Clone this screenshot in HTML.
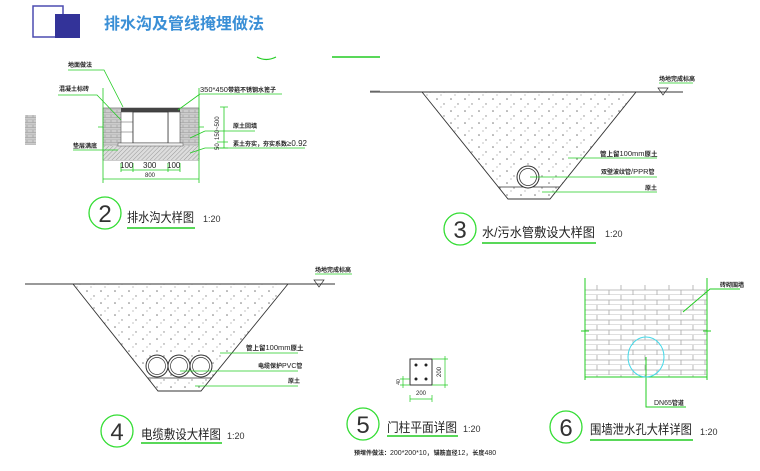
<!DOCTYPE html>
<html><head><meta charset="utf-8"><style>
html,body{margin:0;padding:0;background:#fff}
svg{display:block}
text{font-family:"Liberation Sans","Noto Sans CJK SC",sans-serif}
</style></head><body>
<svg width="760" height="471" viewBox="0 0 760 471" xmlns="http://www.w3.org/2000/svg">
<defs>
<pattern id="dots" width="14" height="12" patternUnits="userSpaceOnUse">
<rect width="14" height="12" fill="#fff"/>
<circle cx="3" cy="3" r="0.8" fill="#777"/><circle cx="10" cy="8" r="0.7" fill="#888"/><circle cx="7" cy="11" r="0.6" fill="#999"/>
</pattern>
<pattern id="hatch" width="3" height="3" patternUnits="userSpaceOnUse" patternTransform="rotate(45)">
<rect width="3" height="3" fill="#ddd"/><line x1="0" y1="0" x2="0" y2="3" stroke="#999" stroke-width="1"/>
</pattern>
<pattern id="brick" width="24" height="10" patternUnits="userSpaceOnUse" x="585" y="285">
<rect width="24" height="10" fill="#fff"/>
<path d="M0 10H24M0 5H24M12 0V5M0 5V10M24 5V10" stroke="#aaa" stroke-width="0.8" fill="none"/>
</pattern>
<pattern id="sbrick" width="6" height="5" patternUnits="userSpaceOnUse">
<rect width="6" height="5" fill="#ccc"/><path d="M0 5H6M3 0V2.5M0 2.5H6" stroke="#999" stroke-width="0.6"/>
</pattern>
</defs>

<!-- header -->
<rect x="33" y="6" width="30" height="31" fill="none" stroke="#4b4bb0" stroke-width="1.5"/>
<rect x="55" y="14" width="25" height="24" fill="#333399"/>
<text x="104" y="29" font-size="16" font-weight="bold" fill="#3a8fd6">排水沟及管线掩埋做法</text>
<path d="M257 57 Q266 62 276 57" stroke="#22cc22" fill="none" stroke-width="1.2"/>
<line x1="332" y1="57" x2="380" y2="57" stroke="#22cc22" stroke-width="1.5"/>
<line x1="370" y1="91" x2="380" y2="91" stroke="#999" stroke-width="1"/>

<rect x="25" y="115" width="11" height="30" fill="url(#sbrick)"/>

<!-- drawing 2 -->
<rect x="103" y="108" width="96" height="52" fill="url(#sbrick)" stroke="#555" stroke-width="0.6"/>
<rect x="103" y="146" width="96" height="14" fill="url(#hatch)"/>
<rect x="121" y="108" width="59" height="4" fill="#444"/>
<rect x="121" y="112" width="12" height="31" fill="#fff" stroke="#555" stroke-width="0.6"/>
<path d="M121 122H133M121 132H133M168 122H180M168 132H180" stroke="#555" stroke-width="0.6"/>
<rect x="168" y="112" width="12" height="31" fill="#fff" stroke="#555" stroke-width="0.6"/>
<rect x="133" y="112" width="35" height="31" fill="#fff" stroke="#333" stroke-width="0.8"/>
<rect x="118" y="143" width="65" height="3" fill="#eee" stroke="#555" stroke-width="0.5"/>
<g stroke="#22cc22" stroke-width="0.8" fill="none">
<path d="M68 70H104L123 107"/><path d="M58 95H97L121 120"/><path d="M200 94H282M200 94L178 110"/>
<path d="M73 150H118"/><path d="M205 131H255M205 131L190 138"/><path d="M205 148H305M205 148L190 153"/>
<path d="M103 88V183M199 88V183M121 163V172M133 163V172M168 163V172M180 163V172M121 170H180M103 179H199"/>
<path d="M224 107V148M220 107H228M220 148H228M217 142H228"/>
<path d="M98 127H103M199 127H204"/>
</g>
<text x="68" y="67" font-size="6" font-weight="bold" fill="#222">地面做法</text>
<text x="59" y="91" font-size="6" font-weight="bold" fill="#222">混凝土标砖</text>
<text x="200" y="92" font-size="7.5" fill="#222">350*450<tspan font-size="6" font-weight="bold">带箍不锈钢水篦子</tspan></text>
<text x="73" y="148" font-size="6" font-weight="bold" fill="#222">垫层满底</text>
<text x="233" y="128" font-size="6" font-weight="bold" fill="#222">原土回填</text>
<text x="233" y="146" font-size="6" font-weight="bold" fill="#222">素土夯实，夯实系数<tspan font-size="8" font-weight="normal">≥0.92</tspan></text>
<text x="219" y="140" font-size="6" fill="#222" transform="rotate(-90 219 140)">150~500</text>
<text x="219" y="150" font-size="6" fill="#222" transform="rotate(-90 219 150)">50</text>
<text x="120" y="168" font-size="8" fill="#222">100</text><text x="143" y="168" font-size="8" fill="#222">300</text><text x="167" y="168" font-size="8" fill="#222">100</text>
<text x="145" y="177" font-size="6" fill="#222">800</text>
<circle cx="105" cy="213" r="16" fill="none" stroke="#33dd33" stroke-width="1.3"/>
<text x="105" y="222" font-size="24" fill="#333" text-anchor="middle">2</text>
<text x="127" y="222" font-size="13" fill="#222" textLength="67" lengthAdjust="spacingAndGlyphs">排水沟大样图</text>
<text x="203" y="222" font-size="9" fill="#333">1:20</text>
<line x1="127" y1="228" x2="195" y2="228" stroke="#22cc22" stroke-width="1.5"/>

<!-- drawing 3 -->
<line x1="370" y1="92" x2="683" y2="92" stroke="#333" stroke-width="1"/>
<polygon points="422,92 636,92 550,199 508,199" fill="url(#dots)" stroke="#333" stroke-width="0.9"/>
<line x1="498" y1="187" x2="560" y2="187" stroke="#333" stroke-width="0.8"/>
<circle cx="528" cy="177" r="11" fill="#fff" stroke="#333" stroke-width="1"/>
<circle cx="528" cy="177" r="8.5" fill="none" stroke="#333" stroke-width="0.8"/>
<g stroke="#22cc22" stroke-width="0.8"><path d="M568 158H657M530 177H657M542 192H657M659 83H693"/></g>
<path d="M658 88 L668 88 L663 95 Z" fill="none" stroke="#333" stroke-width="0.7"/>
<text x="600" y="156" font-size="6.5" font-weight="bold" fill="#222">管上留<tspan font-weight="normal" font-size="7.5">100mm</tspan>原土</text>
<text x="601" y="174" font-size="6" font-weight="bold" fill="#222">双壁波纹管<tspan font-weight="normal" font-size="7.5">/PPR</tspan>管</text>
<text x="645" y="190" font-size="6" font-weight="bold" fill="#222">原土</text>
<text x="659" y="81" font-size="6" font-weight="bold" fill="#222">场地完成标高</text>
<circle cx="460" cy="229" r="16" fill="none" stroke="#33dd33" stroke-width="1.3"/>
<text x="460" y="238" font-size="24" fill="#333" text-anchor="middle">3</text>
<text x="482" y="237" font-size="13" fill="#222" textLength="113" lengthAdjust="spacingAndGlyphs">水/污水管敷设大样图</text>
<text x="605" y="237" font-size="9" fill="#333">1:20</text>
<line x1="482" y1="243" x2="596" y2="243" stroke="#22cc22" stroke-width="1.5"/>

<!-- drawing 4 -->
<line x1="25" y1="284" x2="335" y2="284" stroke="#333" stroke-width="1"/>
<polygon points="73,284 288,284 201,391 158,391" fill="url(#dots)" stroke="#333" stroke-width="0.9"/>
<line x1="148" y1="378" x2="212" y2="378" stroke="#333" stroke-width="0.8"/>
<g fill="#fff" stroke="#333" stroke-width="1">
<circle cx="157" cy="366" r="11"/><circle cx="179" cy="366" r="11"/><circle cx="201" cy="366" r="11"/>
</g>
<g fill="none" stroke="#333" stroke-width="0.7">
<circle cx="157" cy="366" r="8.5"/><circle cx="179" cy="366" r="8.5"/><circle cx="201" cy="366" r="8.5"/>
</g>
<g stroke="#22cc22" stroke-width="0.8"><path d="M220 353H298M180 371H298M195 386H298M315 274H352"/></g>
<path d="M314 280 L324 280 L319 287 Z" fill="none" stroke="#333" stroke-width="0.7"/>
<text x="246" y="350" font-size="6.5" font-weight="bold" fill="#222">管上留<tspan font-weight="normal" font-size="7.5">100mm</tspan>原土</text>
<text x="258" y="368" font-size="6" font-weight="bold" fill="#222">电缆保护<tspan font-weight="normal" font-size="7">PVC</tspan>管</text>
<text x="288" y="383" font-size="6" font-weight="bold" fill="#222">原土</text>
<text x="315" y="272" font-size="6" font-weight="bold" fill="#222">场地完成标高</text>
<circle cx="117" cy="431" r="16" fill="none" stroke="#33dd33" stroke-width="1.3"/>
<text x="117" y="440" font-size="24" fill="#333" text-anchor="middle">4</text>
<text x="141" y="439" font-size="13" fill="#222" textLength="80" lengthAdjust="spacingAndGlyphs">电缆敷设大样图</text>
<text x="227" y="439" font-size="9" fill="#333">1:20</text>
<line x1="141" y1="443" x2="222" y2="443" stroke="#22cc22" stroke-width="1.5"/>

<!-- drawing 5 -->
<rect x="410" y="359" width="22" height="26" fill="#fff" stroke="#333" stroke-width="1"/>
<g fill="#222"><circle cx="416" cy="365" r="1.5"/><circle cx="426" cy="365" r="1.5"/><circle cx="416" cy="379" r="1.5"/><circle cx="426" cy="379" r="1.5"/></g>
<g stroke="#22cc22" stroke-width="0.7" fill="none">
<path d="M432 359H448M432 385H448M445 356V388"/><path d="M410 395V402M432 395V402M410 399H432"/><path d="M400 379H410M400 385H410M403 376V388"/>
</g>
<text x="421" y="395" font-size="6" fill="#222" text-anchor="middle">200</text>
<text x="441" y="372" font-size="6" fill="#222" transform="rotate(-90 441 372)" text-anchor="middle">200</text>
<text x="400" y="382" font-size="5" fill="#222" transform="rotate(-90 400 382)" text-anchor="middle">40</text>
<circle cx="363" cy="424" r="16" fill="none" stroke="#33dd33" stroke-width="1.3"/>
<text x="363" y="433" font-size="24" fill="#333" text-anchor="middle">5</text>
<text x="387" y="432" font-size="13" fill="#222" textLength="70" lengthAdjust="spacingAndGlyphs">门柱平面详图</text>
<text x="463" y="432" font-size="9" fill="#333">1:20</text>
<line x1="387" y1="436" x2="458" y2="436" stroke="#22cc22" stroke-width="1.5"/>
<text x="354" y="455" font-size="6" font-weight="bold" fill="#222">预埋件做法：<tspan font-weight="normal" font-size="7">200*200*10，</tspan>锚筋直径<tspan font-weight="normal" font-size="7">12，</tspan>长度<tspan font-weight="normal" font-size="7">480</tspan></text>

<!-- drawing 6 -->
<rect x="585" y="285" width="122" height="92" fill="url(#brick)"/>
<g stroke="#22cc22" stroke-width="1" fill="none">
<path d="M585 278V380M707 278V380M585 377H707M581 331H589M703 331H711"/>
<path d="M683 312L710 289H740"/><path d="M646 357V407H686"/>
</g>
<ellipse cx="646" cy="357" rx="18" ry="20" fill="none" stroke="#44d8e8" stroke-width="1"/>
<text x="720" y="287" font-size="6" font-weight="bold" fill="#222">砖砌围墙</text>
<text x="654" y="405" font-size="7" fill="#222">DN65<tspan font-size="6" font-weight="bold">管道</tspan></text>
<circle cx="566" cy="427" r="16" fill="none" stroke="#33dd33" stroke-width="1.3"/>
<text x="566" y="436" font-size="24" fill="#333" text-anchor="middle">6</text>
<text x="590" y="434" font-size="13" fill="#222" textLength="102" lengthAdjust="spacingAndGlyphs">围墙泄水孔大样详图</text>
<text x="700" y="435" font-size="9" fill="#333">1:20</text>
<line x1="590" y1="440" x2="693" y2="440" stroke="#22cc22" stroke-width="1.5"/>
</svg>
</body></html>
